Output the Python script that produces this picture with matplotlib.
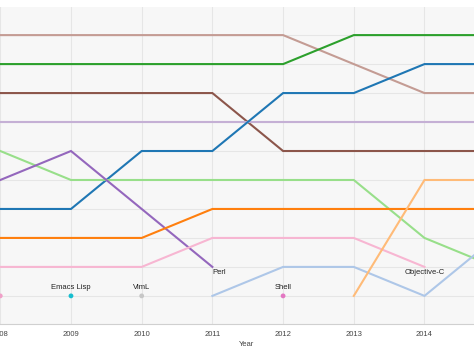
import numpy as np
import matplotlib
matplotlib.use("Agg")
import matplotlib.pyplot as plt

plt.rcParams["font.family"] = ["Liberation Sans", "DejaVu Sans"]

nan = np.nan
years = [2008, 2009, 2010, 2011, 2012, 2013, 2014, 2015]

# rank per year (1 = top), nan where the language is not in the top list
ruby = [1, 1, 1, 1, 1, 2, 3, 3]
javascript = [2, 2, 2, 2, 2, 1, 1, 1]
php = [3, 3, 3, 3, 5, 5, 5, 5]
python = [4, 4, 4, 4, 4, 4, 4, 4]
java = [7, 7, 5, 5, 3, 3, 2, 2]
c_lang = [5, 6, 6, 6, 6, 6, 8, 9]
perl = [6, 5, 7, 9, nan, nan, nan, nan]
cpp = [8, 8, 8, 7, 7, 7, 7, 7]
objective_c = [9, 9, 9, 8, 8, 8, 9, nan]
csharp = [nan, nan, nan, 10, 9, 9, 10, 8]
css = [nan, nan, nan, nan, nan, 10, 6, 6]

# one-year entries at the bottom row
dot_names = ["", "Emacs Lisp", "VimL", "Shell"]
dot_years = [2008, 2009, 2010, 2012]
dot_ranks = [10, 10, 10, 10]
dot_colors = ["#f0a0c8", "#17becf", "#c7c7c7", "#e377c2"]

lines = [
    (ruby, "#c49c94"),
    (javascript, "#2ca02c"),
    (php, "#8c564b"),
    (python, "#c5b0d5"),
    (java, "#1f77b4"),
    (c_lang, "#98df8a"),
    (perl, "#9467bd"),
    (cpp, "#ff7f0e"),
    (objective_c, "#f7b6d2"),
    (csharp, "#aec7e8"),
    (css, "#ffbb78"),
]

fig = plt.figure(figsize=(4.74, 3.55), dpi=100)
ax = fig.add_axes([0.0, 31 / 355, 1.0, 317 / 355])
ax.set_facecolor("#f7f7f7")

for ranks, color in lines:
    ax.plot(years, ranks, color=color, linewidth=1.5, solid_joinstyle="miter",
            zorder=3)

ax.scatter(dot_years, dot_ranks, s=12, c=dot_colors, zorder=4, linewidths=0)
for name, yr, rk in zip(dot_names, dot_years, dot_ranks):
    if name:
        ax.text(yr, rk - 0.28, name, ha="center", va="center", fontsize=5.5,
                color="#222222", zorder=5)

ax.text(2011, 9.2, "Perl", ha="left", va="center", fontsize=5.5,
        color="#222222", zorder=5)
ax.text(2014, 9.2, "Objective-C", ha="center", va="center", fontsize=5.5,
        color="#222222", zorder=5)

ax.set_xticks(years)
ax.set_xticklabels([str(y) for y in years])
ax.set_yticks(range(1, 11))
# limits after the ticks, otherwise set_xticks widens the view
ax.set_xlim(2007.996, 2007.996 + 474 / 70.7)
ax.set_ylim(10.97, 0.03)
ax.tick_params(axis="x", length=0, pad=5, labelsize=5.5, labelcolor="#444444")
ax.tick_params(axis="y", length=0, labelleft=False)
ax.grid(True, color="#e6e6e6", linewidth=0.8, zorder=0)
ax.set_axisbelow(True)

for side in ("top", "left", "right"):
    ax.spines[side].set_visible(False)
ax.spines["bottom"].set_color("#d0d0d0")
ax.spines["bottom"].set_linewidth(0.8)

ax.set_xlabel("Year", fontsize=5.5, color="#444444")
ax.xaxis.set_label_coords(247 / 474, -0.055)

fig.savefig("out.png", dpi=100, facecolor="white")
